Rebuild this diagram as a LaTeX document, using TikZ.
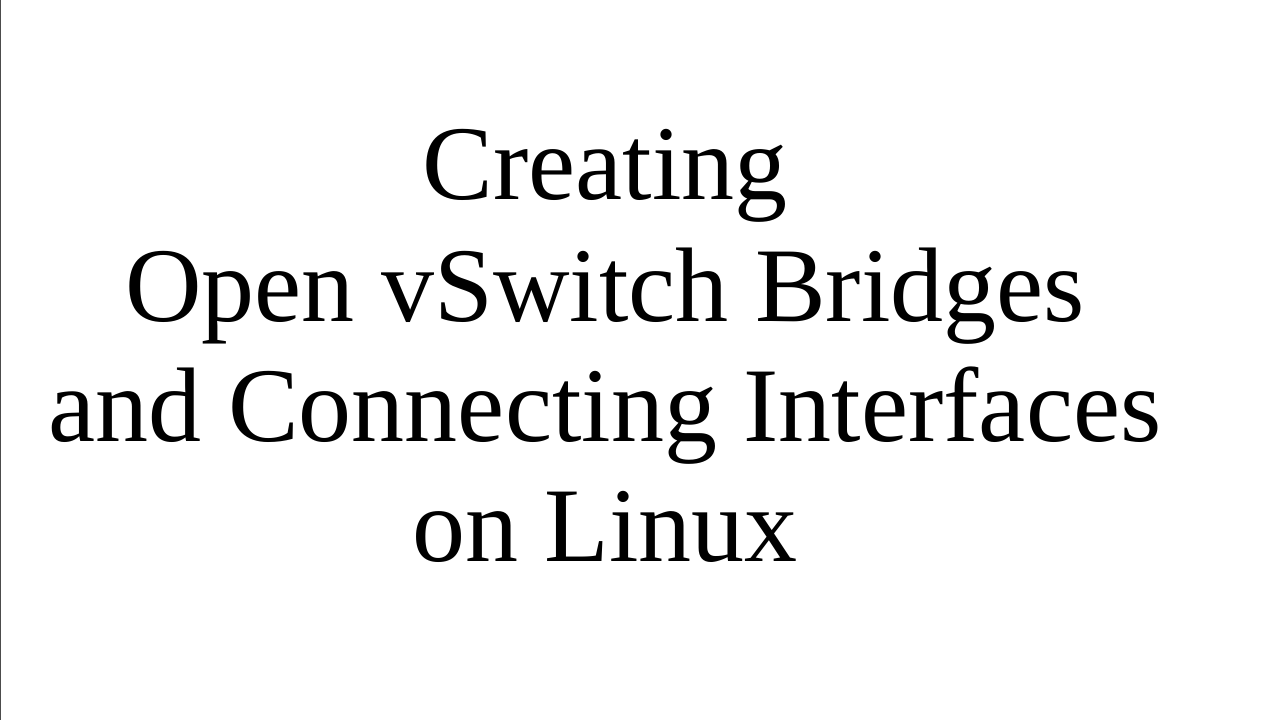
\documentclass[tikz,border=0pt]{standalone}
\usepackage{fontspec}
\setmainfont{Liberation Serif}
\begin{document}
\begin{tikzpicture}[x=1pt,y=1pt,title/.style={anchor=base,inner sep=0pt,font=\fontsize{106}{120}\selectfont}]
\useasboundingbox (0,0) rectangle (1280,720);
\fill[white] (0,0) rectangle (1280,720);
\draw[black!70,line width=1.2pt] (0.6,0) -- (0.6,720);
\node[title] (l1) at (605,520) {Creating};
\node[title] (l2) at (605,398) {Open vSwitch Bridges};
\node[title] (l3) at (605,278) {and Connecting Interfaces};
\node[title] (l4) at (605,158) {on Linux};
\end{tikzpicture}
\end{document}
